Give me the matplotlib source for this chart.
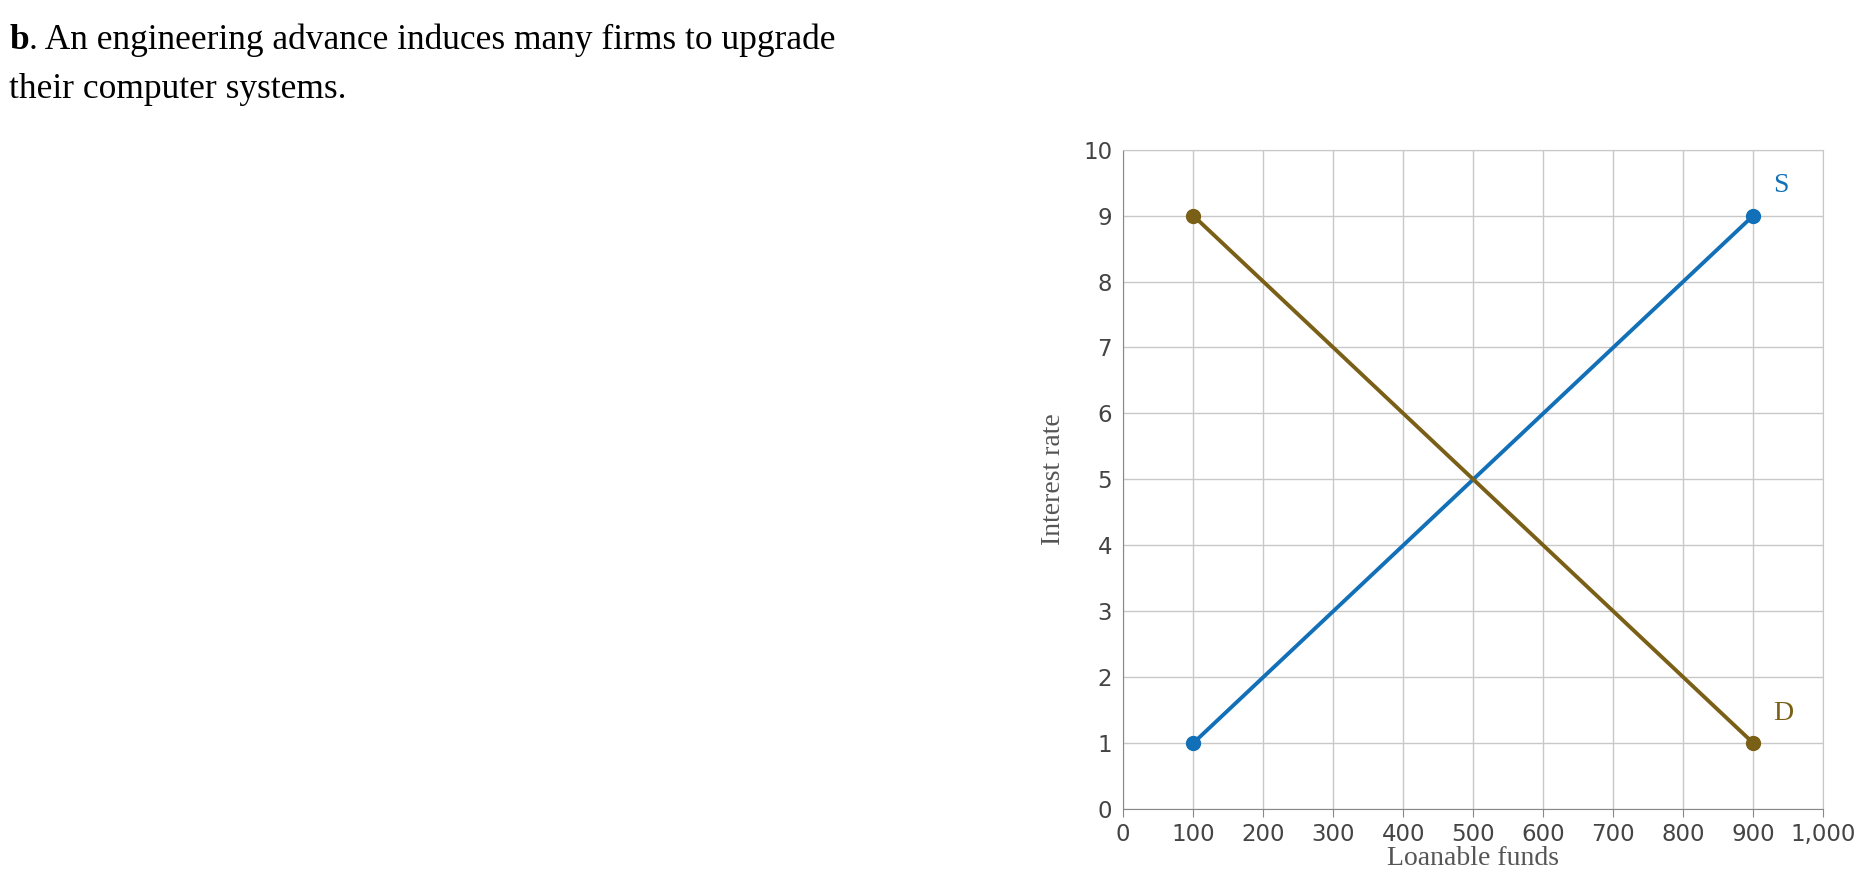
import matplotlib
matplotlib.use("Agg")
import matplotlib.pyplot as plt

supply_x = [100, 900]
supply_y = [1, 9]
demand_x = [100, 900]
demand_y = [9, 1]
xticks = list(range(0, 1001, 100))
xticklabels = ["0", "100", "200", "300", "400", "500", "600", "700", "800", "900", "1,000"]
yticks = list(range(0, 11))

blue = "#1170b8"
brown = "#7a5f17"

fig = plt.figure(figsize=(18.72, 8.96), dpi=100)
t = fig.text(0.005, 0.955, "b", fontsize=25.5, family="Liberation Serif", weight="bold", va="center")
fig.canvas.draw()
bb = t.get_window_extent()
fig.text(bb.x1 / fig.bbox.width, 0.955, ". An engineering advance induces many firms to upgrade",
         fontsize=25.5, family="Liberation Serif", va="center")
fig.text(0.005, 0.9, "their computer systems.", fontsize=25.5, family="Liberation Serif", va="center")

ax = fig.add_axes([0.600, 0.097, 0.374, 0.736])
ax.set_xlim(0, 1000)
ax.set_ylim(0, 10)
ax.set_xticks(xticks)
ax.set_xticklabels(xticklabels)
ax.set_yticks(yticks)
ax.grid(True, color="#c8c8c8", linewidth=1)
ax.set_axisbelow(True)
for s in ["top", "right"]:
    ax.spines[s].set_color("#c8c8c8")
for s in ["left", "bottom"]:
    ax.spines[s].set_color("#888888")
ax.tick_params(labelsize=16.5, length=0, pad=8)
ax.tick_params(axis="x", length=6, color="#888888", pad=4)
for lab in ax.get_xticklabels() + ax.get_yticklabels():
    lab.set_color("#444444")

ax.plot(supply_x, supply_y, color=blue, lw=2.8, marker="o", ms=10, clip_on=False)
ax.plot(demand_x, demand_y, color=brown, lw=2.8, marker="o", ms=10, clip_on=False)
ax.text(940, 9.45, "S", color=blue, fontsize=20, family="Liberation Serif", ha="center", va="center")
ax.text(943, 1.45, "D", color=brown, fontsize=20, family="Liberation Serif", ha="center", va="center")

ax.set_xlabel("Loanable funds", fontsize=20, family="Liberation Serif", color="#555555", labelpad=0)
ax.set_ylabel("Interest rate", fontsize=20, family="Liberation Serif", color="#555555", labelpad=12)

fig.savefig("out.png", dpi=100)
